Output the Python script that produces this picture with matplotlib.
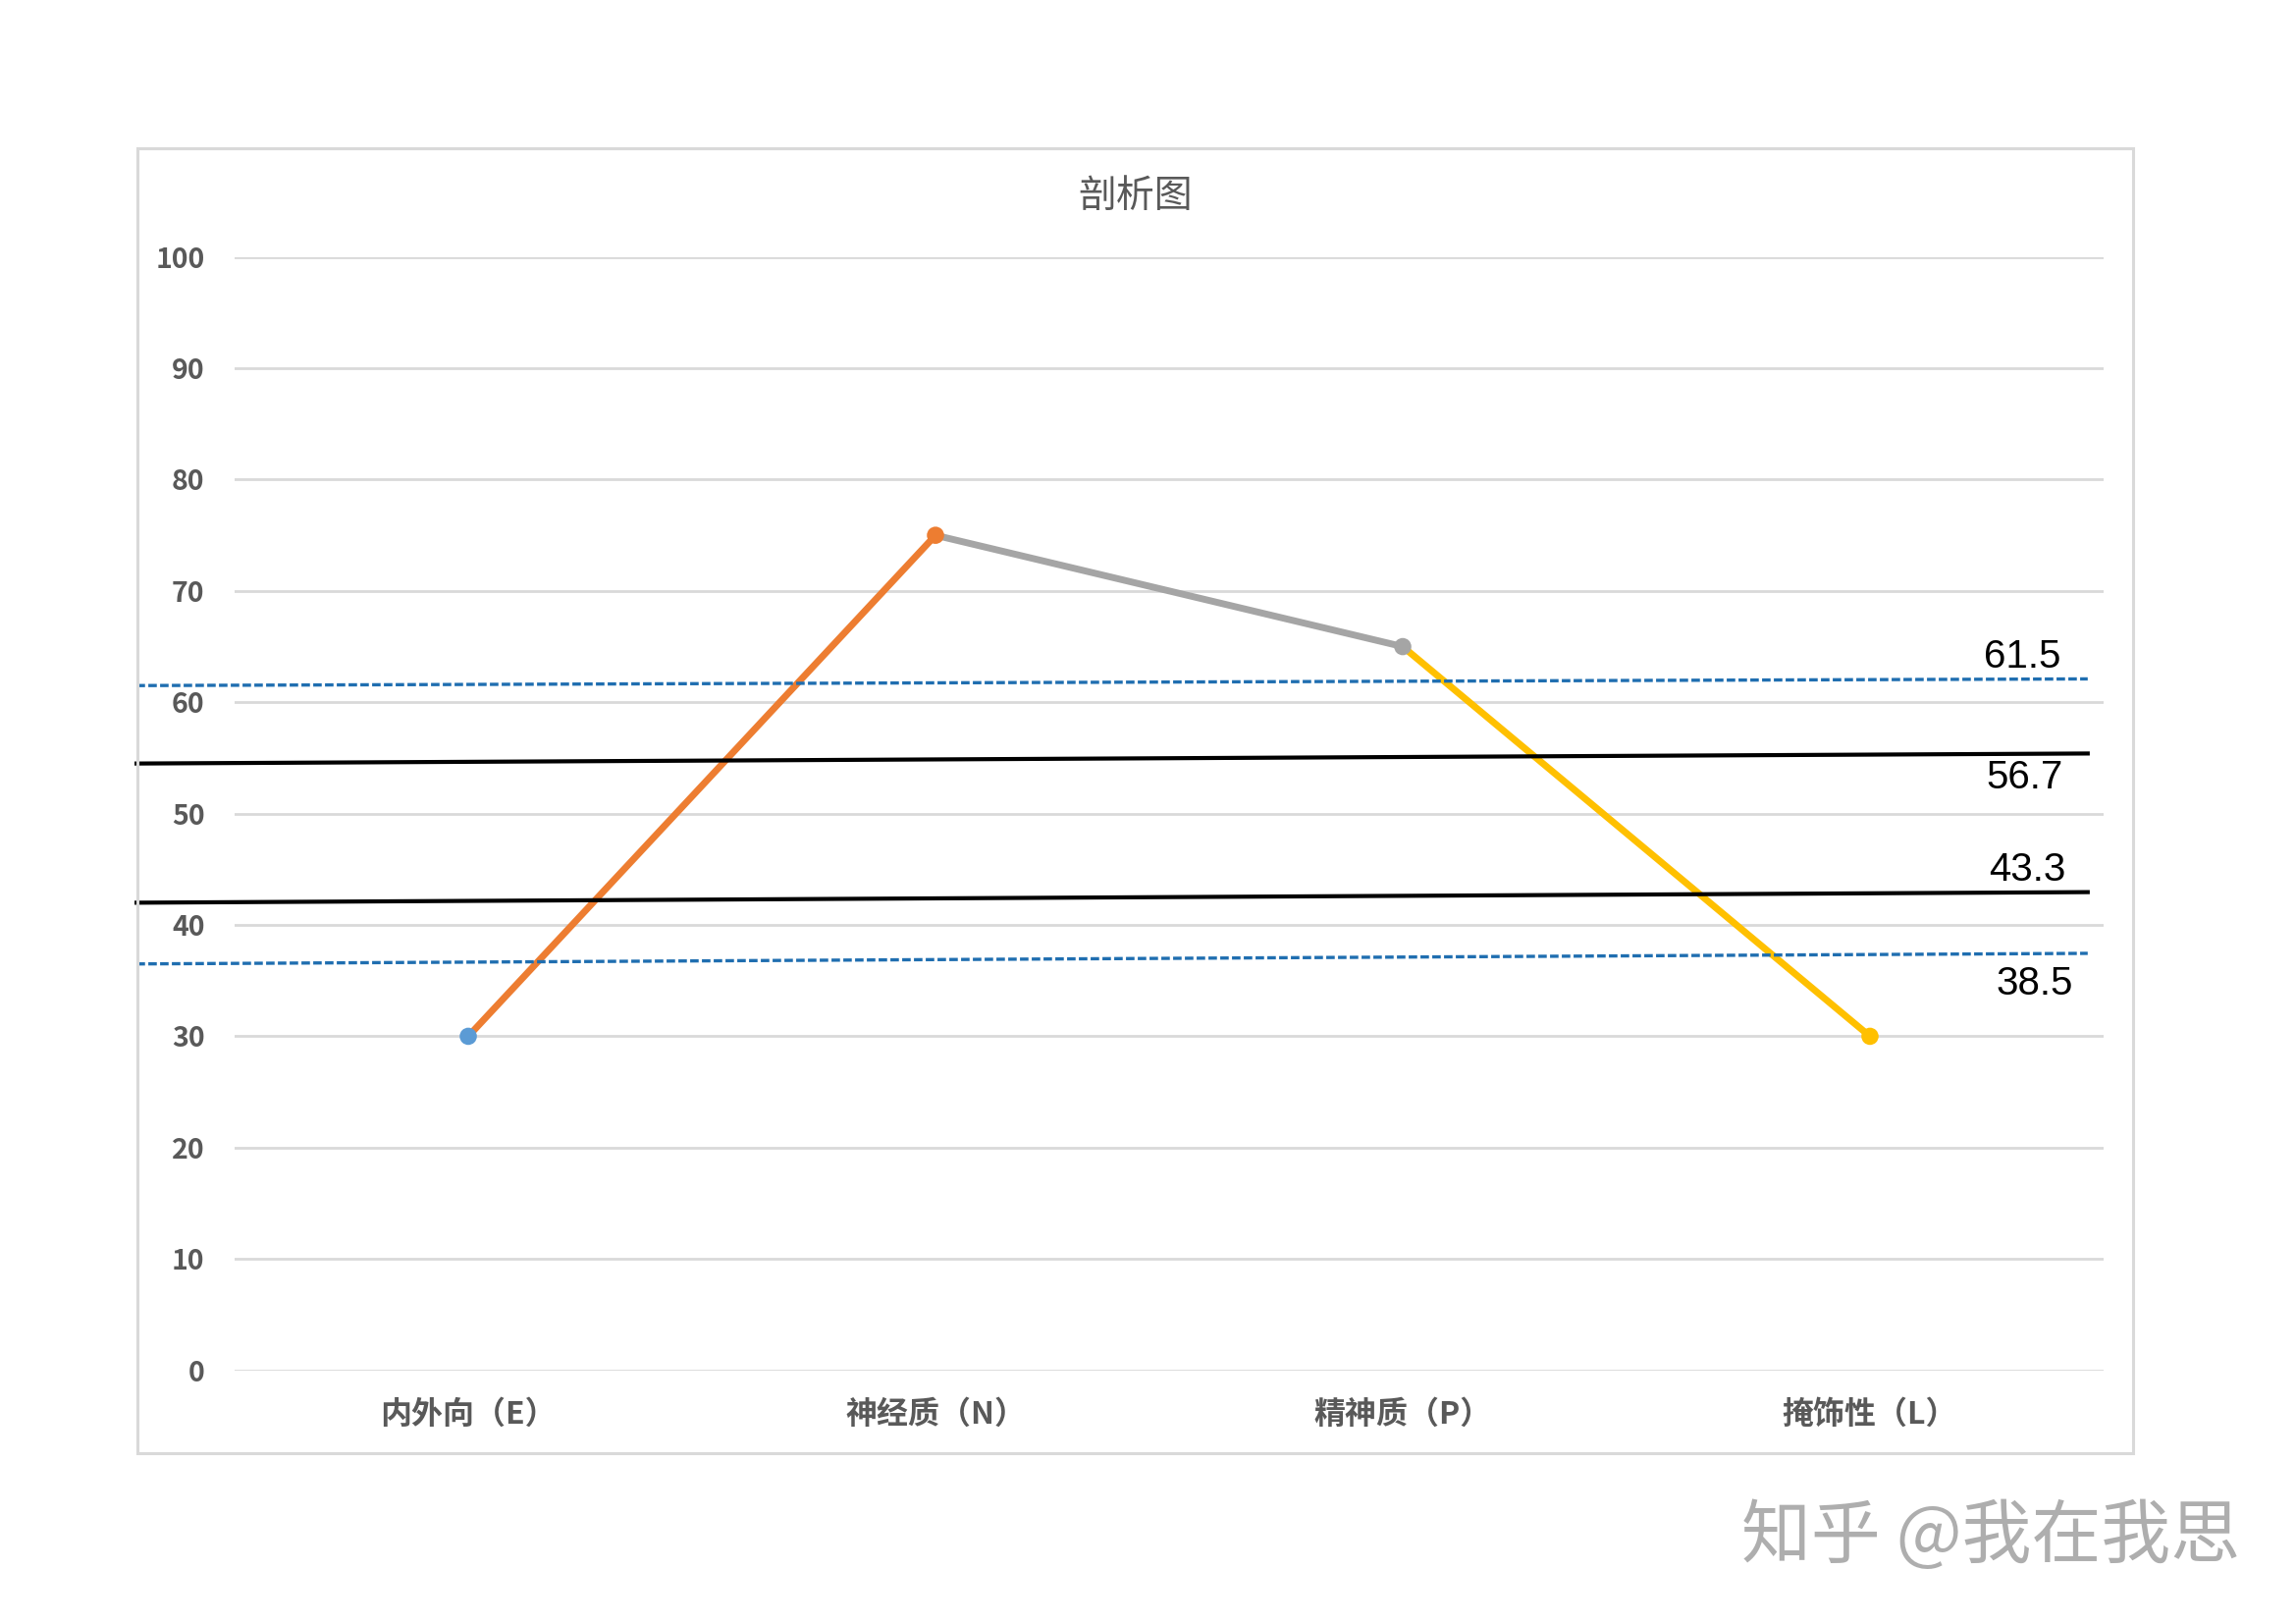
import matplotlib
matplotlib.use('Agg')
import matplotlib.pyplot as plt
import matplotlib.patches as mpatches

plt.rcParams['font.family'] = ['Noto Sans CJK SC', 'DejaVu Sans']

# data
categories = ['内外向（E）', '神经质（N）', '精神质（P）', '掩饰性（L）']
scores = [30, 75, 65, 30]
point_colors = ['#5B9BD5', '#ED7D31', '#A5A5A5', '#FFC000']
yticks = [0, 10, 20, 30, 40, 50, 60, 70, 80, 90, 100]

# hand-drawn reference lines (level at left edge / right edge)
ref_labels = ['61.5', '56.7', '43.3', '38.5']
ref_left = [61.5, 54.5, 42.0, 36.5]
ref_right = [62.1, 55.4, 42.95, 37.45]
ref_styles = ['dash', 'solid', 'solid', 'dash']

GREY_TXT = '#595959'

fig = plt.figure(figsize=(23.39, 16.54), dpi=100)
ax = fig.add_axes([0.1022, 0.1562, 0.9162 - 0.1022, 0.8418 - 0.1562])

# outer chart box
box = mpatches.Rectangle((0.0599, 0.1052), 0.929 - 0.0599, 0.9087 - 0.1052,
                         transform=fig.transFigure, fill=False,
                         edgecolor='#D9D9D9', linewidth=2.2, zorder=0)
fig.patches.append(box)

x = list(range(len(categories)))
ax.set_xlim(-0.5, 3.5)
ax.set_ylim(0, 100)
ax.set_yticks(yticks)
ax.set_xticks(x)
ax.set_xticklabels(categories)
for s in ax.spines.values():
    s.set_visible(False)
ax.grid(axis='y', color='#D9D9D9', linewidth=2.0)
ax.set_axisbelow(True)
ax.tick_params(axis='y', length=0, pad=22, labelsize=20.5, labelcolor=GREY_TXT)
ax.tick_params(axis='x', length=0, pad=21, labelsize=23, labelcolor=GREY_TXT)
for lbl in ax.get_yticklabels() + ax.get_xticklabels():
    lbl.set_fontweight('bold')

# series: each segment takes the colour of the point it leads to
for i in range(1, len(scores)):
    ax.plot(x[i - 1:i + 1], scores[i - 1:i + 1], color=point_colors[i],
            linewidth=5, solid_capstyle='round', zorder=3)
ax.scatter(x, scores, c=point_colors, s=160, zorder=4, linewidths=0)

# reference lines
x_l, x_r = -0.71, 3.466
for lab, yl, yr, st in zip(ref_labels, ref_left, ref_right, ref_styles):
    if st == 'dash':
        ax.plot([x_l, x_r], [yl, yr], color='#1F6EB0', linewidth=2.4,
                dashes=(2.6, 1.0), clip_on=False, zorder=5)
    else:
        ax.plot([x_l, x_r], [yl, yr], color='black', linewidth=3.0,
                clip_on=False, zorder=5)

label_pos = [(3.326, 64.1), (3.33, 53.2), (3.336, 44.9), (3.353, 34.7)]
for lab, (lx, ly) in zip(ref_labels, label_pos):
    ax.text(lx, ly, lab, ha='center', va='center', fontsize=29,
            family='Liberation Sans', color='black', zorder=6)

fig.text(1157 / 2339, 1 - 200 / 1654, '剖析图', ha='center', va='center',
         fontsize=28, color=GREY_TXT)

fig.text(2028 / 2339, 1 - 1566 / 1654, '知乎 @我在我思', ha='center', va='center',
         fontsize=51, color='#AEAEAE')

fig.savefig('out.png', dpi=100, facecolor='white')
